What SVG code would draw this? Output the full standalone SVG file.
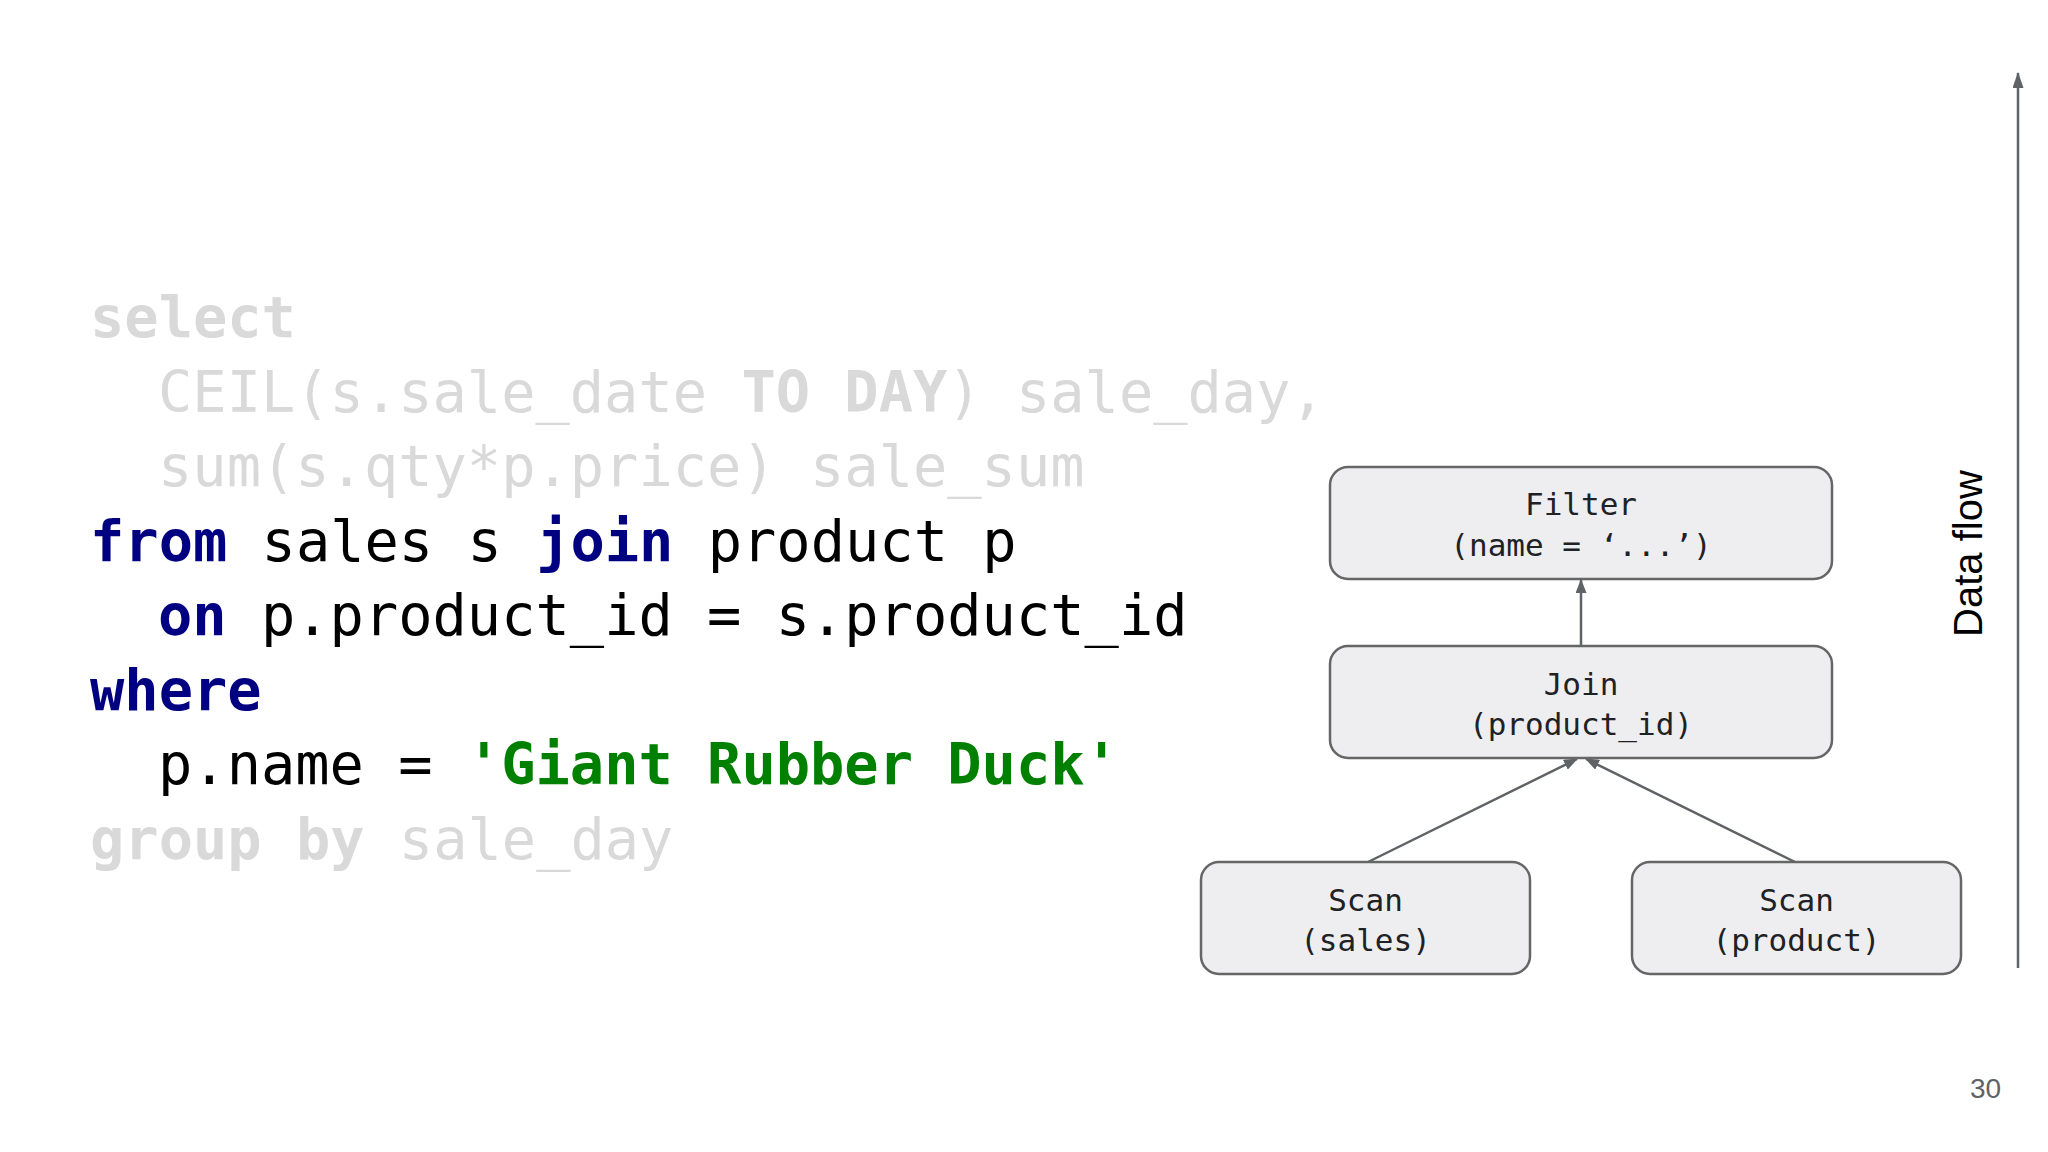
<svg xmlns="http://www.w3.org/2000/svg" width="2048" height="1152" viewBox="0 0 2048 1152">
  <style>
    .code { font-family: "DejaVu Sans Mono", "Liberation Mono", monospace; font-size: 57px; fill: #000000; }
    .dim { fill: #d9d9d9; }
    .b { font-weight: bold; }
    .kw { fill: #000080; font-weight: bold; }
    .str { fill: #008000; font-weight: bold; }
    .box { fill: #eeeef0; stroke: #666666; stroke-width: 2.5; }
    .lbl { font-family: "DejaVu Sans Mono", "Liberation Mono", monospace; font-size: 31px; fill: #202124; text-anchor: middle; }
    .edge { stroke: #5f6368; stroke-width: 2.5; fill: none; }
    .axis { stroke: #5f6368; stroke-width: 2.5; fill: none; }
    .side { font-family: "Liberation Sans", Arial, sans-serif; font-size: 40px; fill: #000000; text-anchor: middle; }
    .page { font-family: "Liberation Sans", Arial, sans-serif; font-size: 28px; fill: #5f6368; }
  </style>
  <defs>
    <marker id="arrow" markerUnits="userSpaceOnUse" markerWidth="14" markerHeight="11" viewBox="0 0 14 11" refX="13" refY="5.5" orient="auto">
      <path d="M0,0 L14,5.5 L0,11 z" fill="#5f6368"/>
    </marker>
    <marker id="arrowBig" markerUnits="userSpaceOnUse" markerWidth="16" markerHeight="11" viewBox="0 0 16 11" refX="15" refY="5.5" orient="auto">
      <path d="M0,0 L16,5.5 L0,11 z" fill="#5f6368"/>
    </marker>
  </defs>

  <rect width="2048" height="1152" fill="#ffffff"/>

  <g id="sql-code" class="code">
    <text x="90" y="337" xml:space="preserve"><tspan class="dim b">select</tspan></text>
    <text x="158" y="411.5" xml:space="preserve"><tspan class="dim">CEIL(s.sale_date </tspan><tspan class="dim b">TO DAY</tspan><tspan class="dim">) sale_day,</tspan></text>
    <text x="158" y="486" xml:space="preserve"><tspan class="dim">sum(s.qty*p.price) sale_sum</tspan></text>
    <text x="90" y="560.5" xml:space="preserve"><tspan class="kw">from</tspan> sales s <tspan class="kw">join</tspan> product p</text>
    <text x="158" y="635" xml:space="preserve"><tspan class="kw">on</tspan> p.product_id = s.product_id</text>
    <text x="90" y="709.5" xml:space="preserve"><tspan class="kw">where</tspan></text>
    <text x="158" y="784" xml:space="preserve">p.name = <tspan class="str">'Giant Rubber Duck'</tspan></text>
    <text x="90" y="858.5" xml:space="preserve"><tspan class="dim b">group by</tspan><tspan class="dim"> sale_day</tspan></text>
  </g>

  <g id="connectors">
    <line class="edge" x1="1581" y1="646" x2="1581" y2="580" marker-end="url(#arrow)"/>
    <line class="edge" x1="1368" y1="862" x2="1577" y2="759" marker-end="url(#arrow)"/>
    <line class="edge" x1="1795" y1="862" x2="1586" y2="759" marker-end="url(#arrow)"/>
  </g>

  <g id="filter">
    <rect class="box" x="1330" y="467" width="502" height="112" rx="18"/>
    <text class="lbl" x="1581" y="515">Filter</text>
    <text class="lbl" x="1581" y="556" xml:space="preserve">(name = ‘...’)</text>
  </g>

  <g id="join">
    <rect class="box" x="1330" y="646" width="502" height="112" rx="18"/>
    <text class="lbl" x="1581" y="695">Join</text>
    <text class="lbl" x="1581" y="735">(product_id)</text>
  </g>

  <g id="scan-sales">
    <rect class="box" x="1201" y="862" width="329" height="112" rx="18"/>
    <text class="lbl" x="1365.5" y="911">Scan</text>
    <text class="lbl" x="1365.5" y="951">(sales)</text>
  </g>

  <g id="scan-product">
    <rect class="box" x="1632" y="862" width="329" height="112" rx="18"/>
    <text class="lbl" x="1796.5" y="911">Scan</text>
    <text class="lbl" x="1796.5" y="951">(product)</text>
  </g>

  <g id="data-flow">
    <line class="axis" x1="2018" y1="968" x2="2018" y2="73" marker-end="url(#arrowBig)"/>
    <text class="side" transform="translate(1982,553.5) rotate(-90)" x="0" y="0">Data flow</text>
  </g>

  <text class="page" x="1970" y="1098">30</text>
</svg>
